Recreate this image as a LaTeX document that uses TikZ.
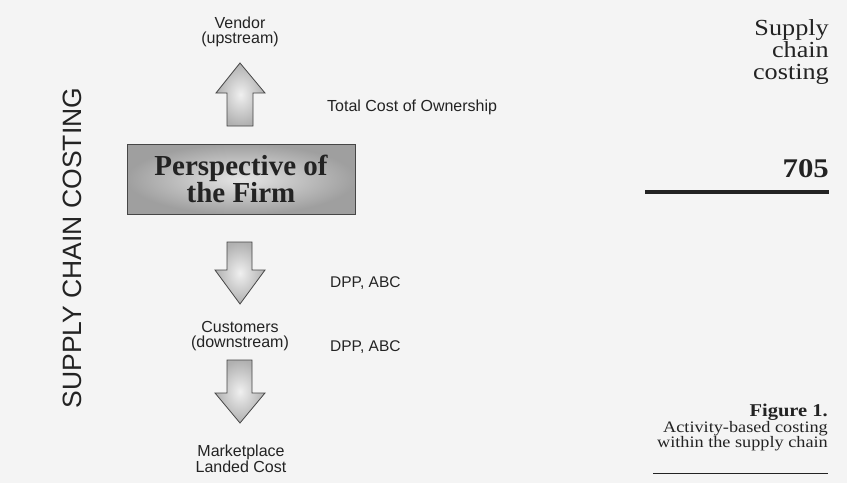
\documentclass[tikz,border=0pt]{standalone}
\usepackage{fontspec}
\setmainfont{Liberation Serif}
\newfontfamily\labelfont{Liberation Sans}
\newfontfamily\margfont[FakeStretch=1.14]{Liberation Serif}
\definecolor{bgc}{RGB}{244,244,244}
\definecolor{ink}{RGB}{35,35,35}
\definecolor{boxedge}{RGB}{70,70,70}
\tikzset{
  lbl/.style={font=\labelfont\fontsize{16}{15.5}\selectfont, text=ink, inner sep=0pt, align=center},
  sidelbl/.style={font=\labelfont\fontsize{15.5}{15.5}\selectfont, text=ink, inner sep=0pt, anchor=west},
  marg/.style={font=\margfont\fontsize{23}{22}\selectfont, text=ink, inner sep=0pt, anchor=base east},
  caption/.style={font=\margfont\fontsize{16}{15}\selectfont, text=ink, inner sep=0pt, anchor=base east},
  blockarrow/.style={draw=boxedge, line width=0.8pt, inner color=gray!12, outer color=gray!62, line join=miter},
  firmbox/.style={draw=boxedge, line width=0.8pt, inner color=gray!20, outer color=gray!75,
    minimum width=228pt, minimum height=70pt, inner sep=0pt, align=center, text=ink,
    font=\bfseries\fontsize{29}{27}\selectfont}
}
\begin{document}
\begin{tikzpicture}[x=1pt,y=-1pt]
\fill[bgc] (0,0) rectangle (847,483);
\useasboundingbox (0,0) rectangle (847,483);

% vertical title
\node[font=\labelfont\fontsize{26.5}{26.5}\selectfont, text=ink, rotate=90, inner sep=0pt] (title) at (72,248) {SUPPLY CHAIN COSTING};

% central box
\node[firmbox] (firm) at (241,179) {Perspective of\\the Firm};

% labels
\node[lbl] (vendor) at (240,32) {Vendor\\(upstream)};
\node[lbl] (cust) at (240,336) {Customers\\(downstream)};
\node[lbl] (market) at (241,459) {Marketplace\\Landed Cost};
\node[font=\labelfont\fontsize{16}{16}\selectfont, text=ink, inner sep=0pt, anchor=west] (tco) at (327,107) {Total Cost of Ownership};
\node[sidelbl] (dpp1) at (330,283) {DPP, ABC};
\node[sidelbl] (dpp2) at (330,347) {DPP, ABC};

% block arrows
\coordinate (uptip) at (240,63);
\draw[blockarrow] (uptip) -- ++(25,30) -- ++(-12,0) -- ++(0,33) -- ++(-26,0) -- ++(0,-33) -- ++(-11,0) -- cycle;
\coordinate (dtip1) at (240,304);
\draw[blockarrow] (dtip1) -- ++(-25,-34) -- ++(12,0) -- ++(0,-28) -- ++(25,0) -- ++(0,28) -- ++(13,0) -- cycle;
\coordinate (dtip2) at (240,423);
\draw[blockarrow] (dtip2) -- ++(-25,-30) -- ++(12,0) -- ++(0,-33) -- ++(25,0) -- ++(0,33) -- ++(13,0) -- cycle;

% margin text
\node[marg] (m1) at (829,35) {Supply};
\node[marg] (m2) at (829,57) {chain};
\node[marg] (m3) at (829,79) {costing};
\node[font=\margfont\bfseries\fontsize{27}{27}\selectfont, text=ink, inner sep=0pt, anchor=base east] (page) at (829,177) {705};
\coordinate (r1a) at (645,192);
\coordinate (r1b) at (829,192);
\draw[line width=3.5pt, ink] (r1a) -- (r1b);

\node[caption, font=\margfont\bfseries\fontsize{18}{15}\selectfont] (fig) at (828,416) {Figure 1.};
\node[caption] (cap1) at (828,432) {Activity-based costing};
\node[caption] (cap2) at (828,447) {within the supply chain};
\coordinate (r2a) at (653,473);
\coordinate (r2b) at (828,473);
\draw[line width=1pt, ink] (r2a) -- (r2b);
\end{tikzpicture}
\end{document}
